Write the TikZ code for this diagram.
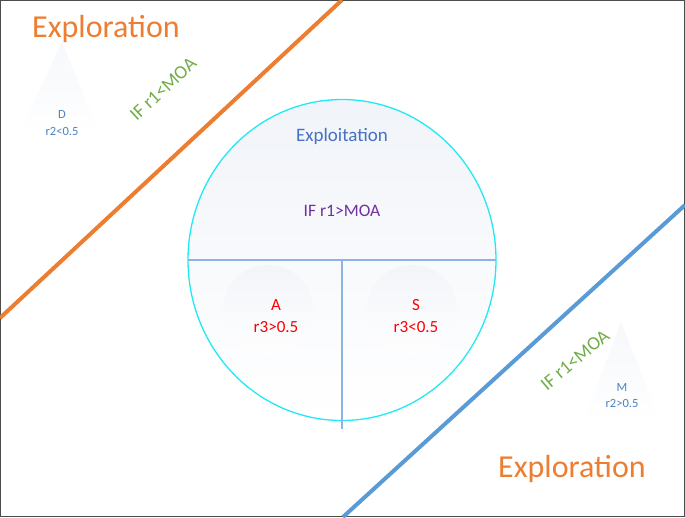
\documentclass[tikz,border=0pt]{standalone}
\usepackage{fontspec}
\setmainfont{Carlito}
\usepackage{tikz}
\usetikzlibrary{shapes.geometric, arrows.meta, positioning}
\definecolor{naranja}{HTML}{ED7D31}
\definecolor{azullinea}{HTML}{5B9BD5}
\definecolor{verde}{HTML}{70AD47}
\definecolor{azultexto}{HTML}{4472C4}
\definecolor{azulsuave}{HTML}{4F81BD}
\definecolor{morado}{HTML}{7030A0}
\definecolor{rojo}{HTML}{FF0000}
\definecolor{cian}{HTML}{22E9F2}
\definecolor{divisor}{HTML}{8DB3E2}
\definecolor{sombra}{HTML}{EBEFF6}
\tikzstyle{fase} = [text=naranja, font=\fontsize{32}{34}\selectfont, anchor=base west, inner sep=0]
\tikzstyle{condicion} = [text=verde, font=\fontsize{19}{21}\selectfont, inner sep=0]
\tikzstyle{operador} = [text=azulsuave, font=\fontsize{12.5}{14}\selectfont, anchor=base, inner sep=0]
\tikzstyle{ataque} = [text=rojo, font=\fontsize{17}{19}\selectfont, anchor=base, inner sep=0]
\tikzstyle{frontera} = [draw, line width=4pt]
\tikzstyle{division} = [draw=divisor, line width=1.6pt]

\begin{document}
\begin{tikzpicture}[x=1pt, y=-1pt]
  	\useasboundingbox (0,0) rectangle (685,517);
  	\draw [gray!60!black, line width=1.2pt] (0.6,0.6) rectangle (684.4,516.4);
  	
  	% Sombras de fondo
  	\shade [top color=sombra, bottom color=white, opacity=0.45] (62,42) -- (100,135) -- (18,135) -- cycle;
  	\shade [top color=sombra, bottom color=white, opacity=0.45] (621,322) -- (662,425) -- (582,425) -- cycle;
  	
  	% Fronteras de exploracion
  	\coordinate (oizq) at (0,318);
  	\coordinate (oder) at (342,0);
  	\coordinate (aizq) at (343,517);
  	\coordinate (ader) at (685,205);
  	\draw [frontera, naranja] (oizq) -- (oder);
  	\draw [frontera, azullinea] (aizq) -- (ader);
  	
  	% Circulo de explotacion
  	\node (circulo) [ellipse, draw=cian, line width=1.3pt, minimum width=308pt, minimum height=321pt, inner sep=0, outer sep=0, top color=sombra!70, bottom color=white] at (342,260) {};
  	\shade [top color=sombra!70, bottom color=white, opacity=0.7] (268,310) circle (45);
  	\shade [top color=sombra!70, bottom color=white, opacity=0.7] (412,310) circle (45);
  	\coordinate (pie) at (342,429);
  	\draw [division] (circulo.west) -- (circulo.east);
  	\draw [division] (circulo.center) -- (pie);
  	
  	% Textos
  	\node (explo1) [fase] at (32,37) {Exploration};
  	\node (explo2) [fase] at (498,477) {Exploration};
  	\node (cond1) [condicion, rotate=43] at (163,89) {IF r1<MOA};
  	\node (cond2) [condicion, rotate=40] at (575,360) {IF r1<MOA};
  	\node (opD) [operador] at (62,118) {D};
  	\node (opDr) [operador] at (62,135) {r2<0.5};
  	\node (opM) [operador] at (622,391) {M};
  	\node (opMr) [operador] at (622,407) {r2>0.5};
  	\node (explot) [text=azultexto, font=\fontsize{19}{21}\selectfont, anchor=base, inner sep=0] at (342,141) {Exploitation};
  	\node (cond3) [text=morado, font=\fontsize{17.5}{19}\selectfont, anchor=base, inner sep=0] at (342,216) {IF r1>MOA};
  	\node (opA) [ataque] at (276,310) {A};
  	\node (opAr) [ataque] at (276,332) {r3>0.5};
  	\node (opS) [ataque] at (416,310) {S};
  	\node (opSr) [ataque] at (416,332) {r3<0.5};
  	
  \end{tikzpicture}
\end{document}
